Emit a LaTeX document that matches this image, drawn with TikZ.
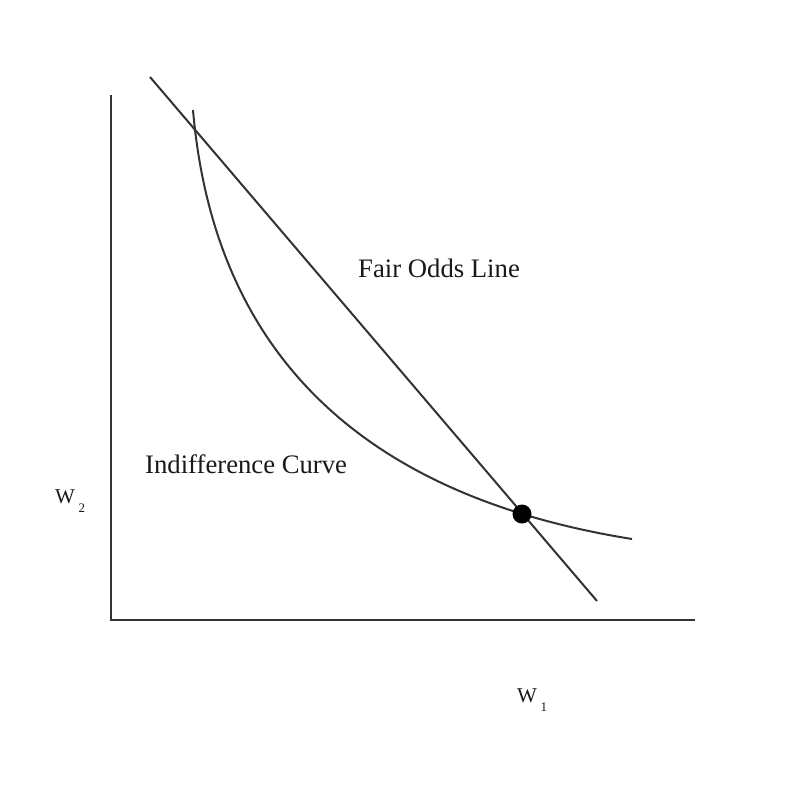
\documentclass[tikz,border=0pt]{standalone}
\usepackage{fontspec}
\setmainfont{Liberation Serif}
\begin{document}
\begin{tikzpicture}[x=1pt,y=-1pt,
  line/.style={line width=2pt,draw=black!80},
  lbl/.style={inner sep=0pt,anchor=base west,font=\fontsize{26.7}{30}\selectfont,text=black!90},
  axlbl/.style={inner sep=0pt,anchor=base west,font=\fontsize{21}{25}\selectfont,text=black!90}]
\useasboundingbox[fill=white] (0,0) rectangle (810,812);
% axes
\coordinate (top) at (111,95);
\coordinate (org) at (111,620);
\coordinate (right) at (695,620);
\draw[line,line cap=butt] (top) -- (org) -- (right);
% fair odds line
\coordinate (fa) at (150,77);
\coordinate (fb) at (597,601);
\draw[line] (fa) -- (fb);
% indifference curve
\coordinate (ica) at (193,110);
\coordinate (icb) at (632,539);
\draw[line] (ica) .. controls (218,400) and (420,505) .. (icb);
\node[circle,fill=black,inner sep=0pt,minimum size=19pt] (dot) at (522,514) {};
% labels
\node[lbl] (fol) at (358,277) {Fair Odds Line};
\node[lbl] (ic) at (145,473) {Indifference Curve};
\node[axlbl] (w2) at (55,503) {W\,\raisebox{-9pt}{\fontsize{13}{15}\selectfont 2}};
\node[axlbl] (w1) at (517,702) {W\,\raisebox{-9pt}{\fontsize{13}{15}\selectfont 1}};
\end{tikzpicture}
\end{document}
